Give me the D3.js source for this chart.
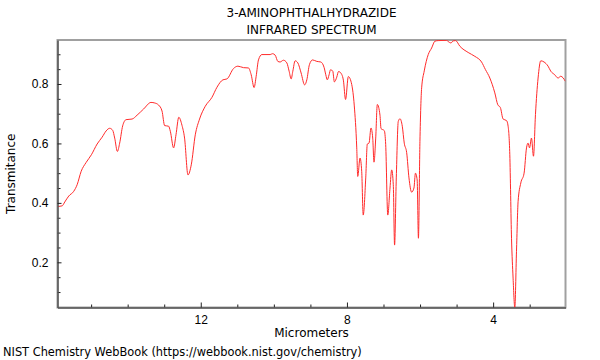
<!DOCTYPE html>
<html>
<head>
<meta charset="utf-8">
<script src="https://cdn.jsdelivr.net/npm/d3@7"></script>
<style>
  body { margin: 0; background: #fff; }
  svg { font-family: "DejaVu Sans", sans-serif; }
  .axis text { font-size: 12px; fill: #000; }
  .axis .domain { stroke: #555; stroke-width: 1.5; }
  .axis line { stroke: #222; }
</style>
</head>
<body>
<div id="chart"></div>
<script>
// Spectrum: wavelength (micrometers) and transmittance
const micrometers = [
  15.913, 15.792, 15.721, 15.612, 15.475, 15.383, 15.273, 15.137, 14.992, 14.836,
  14.699, 14.590, 14.492, 14.410, 14.355, 14.281, 14.219, 14.137, 14.044, 13.880,
  13.743, 13.563, 13.361, 13.257, 13.153, 13.060, 12.989, 12.880, 12.833, 12.743,
  12.678, 12.601, 12.514, 12.443, 12.350, 12.260, 12.150, 12.033, 11.877, 11.694,
  11.557, 11.393, 11.284, 11.104, 10.984, 10.831, 10.694, 10.620, 10.541, 10.484,
  10.421, 10.328, 10.101, 10.038, 9.964, 9.891, 9.828, 9.738, 9.645, 9.582,
  9.527, 9.481, 9.418, 9.344, 9.254, 9.158, 9.098, 9.027, 8.940, 8.825,
  8.716, 8.626, 8.579, 8.538, 8.489, 8.448, 8.388, 8.344, 8.279, 8.230,
  8.142, 8.098, 8.038, 7.962, 7.869, 7.801, 7.732, 7.705, 7.642, 7.596,
  7.555, 7.486, 7.443, 7.396, 7.342, 7.295, 7.260, 7.213, 7.169, 7.096,
  7.068, 6.978, 6.940, 6.883, 6.822, 6.776, 6.732, 6.697, 6.650, 6.596,
  6.549, 6.486, 6.432, 6.366, 6.303, 6.230, 6.167, 6.126, 6.079, 6.044,
  6.003, 5.956, 5.885, 5.776, 5.683, 5.593, 5.503, 5.273, 5.230, 5.156,
  5.093, 5.027, 4.910, 4.683, 4.500, 4.317, 4.213, 4.090, 3.954, 3.872,
  3.803, 3.727, 3.634, 3.590, 3.544, 3.497, 3.454, 3.407, 3.361, 3.317,
  3.243, 3.153, 3.087, 3.044, 3.005, 2.951, 2.896, 2.842, 2.770, 2.697,
  2.607, 2.497, 2.423, 2.314, 2.224, 2.150, 2.022
];
const transmittance = [
  0.388, 0.390, 0.403, 0.423, 0.439, 0.461, 0.506, 0.536, 0.562, 0.598,
  0.621, 0.642, 0.651, 0.644, 0.618, 0.573, 0.601, 0.659, 0.680, 0.682,
  0.695, 0.716, 0.738, 0.736, 0.729, 0.709, 0.660, 0.658, 0.641, 0.585,
  0.629, 0.688, 0.661, 0.618, 0.494, 0.528, 0.629, 0.682, 0.725, 0.755,
  0.789, 0.814, 0.817, 0.852, 0.860, 0.855, 0.854, 0.831, 0.788, 0.826,
  0.881, 0.899, 0.899, 0.902, 0.897, 0.876, 0.874, 0.880, 0.871, 0.843,
  0.817, 0.843, 0.878, 0.871, 0.837, 0.797, 0.814, 0.865, 0.881, 0.876,
  0.874, 0.856, 0.831, 0.814, 0.831, 0.848, 0.843, 0.807, 0.823, 0.842,
  0.832, 0.813, 0.748, 0.825, 0.798, 0.729, 0.585, 0.489, 0.551, 0.506,
  0.359, 0.484, 0.598, 0.601, 0.652, 0.618, 0.537, 0.618, 0.731, 0.695,
  0.650, 0.643, 0.596, 0.359, 0.450, 0.511, 0.461, 0.258, 0.484, 0.674,
  0.683, 0.658, 0.601, 0.569, 0.484, 0.436, 0.450, 0.500, 0.477, 0.281,
  0.607, 0.787, 0.844, 0.899, 0.921, 0.944, 0.946, 0.947, 0.943, 0.938,
  0.945, 0.946, 0.927, 0.906, 0.893, 0.874, 0.849, 0.820, 0.770, 0.730,
  0.721, 0.682, 0.677, 0.658, 0.562, 0.281, 0.147, 0.048, 0.237, 0.405,
  0.467, 0.500, 0.585, 0.601, 0.585, 0.618, 0.557, 0.697, 0.820, 0.878,
  0.874, 0.860, 0.843, 0.831, 0.820, 0.826, 0.809
];

const xMajorTicks = [12, 8, 4];
const xMinorTicks = [15, 14, 13, 11, 10, 9, 7, 6, 5, 3];
const yMajorTicks = [0.2, 0.4, 0.6, 0.8];
const yMinorTicks = [0.1, 0.15, 0.25, 0.3, 0.35, 0.45, 0.5, 0.55, 0.65, 0.7, 0.75, 0.85, 0.9];

const data = micrometers.map((m, i) => ({ m: m, t: transmittance[i] }));

const W = 600, H = 360;
const margin = { top: 40, right: 34.5, bottom: 52.5, left: 57.5 };
const width = W - margin.left - margin.right;
const height = H - margin.top - margin.bottom;

const svg = d3.select('#chart')
    .append('svg')
    .attr('width', W)
    .attr('height', H);

const g = svg.append('g')
    .attr('transform', `translate(${margin.left},${margin.top})`);

// Scales (wavelength runs right to left)
const x = d3.scaleLinear().domain([15.92, 2.02]).range([0, width]);
const y = d3.scaleLinear().domain([0.048, 0.948]).range([height, 0]);

// Frame
g.append('rect')
    .attr('width', width)
    .attr('height', height)
    .attr('fill', 'none')
    .attr('stroke', '#a0a0a0')
    .attr('stroke-width', 2);

// Clip for the trace
g.append('clipPath').attr('id', 'clip')
    .append('rect').attr('width', width).attr('height', height);

const line = d3.line()
    .x(d => x(d.m))
    .y(d => y(d.t))
    .curve(d3.curveMonotoneX);

g.append('path')
    .datum(data)
    .attr('clip-path', 'url(#clip)')
    .attr('fill', 'none')
    .attr('stroke', '#ff2a2a')
    .attr('stroke-width', 1)
    .attr('d', line);

// Axes, ticks pointing inward
g.append('g')
    .attr('class', 'axis')
    .attr('transform', `translate(0,${height})`)
    .call(d3.axisBottom(x).tickValues(xMinorTicks).tickSize(-3).tickFormat(''))
    .select('.domain').remove();

g.append('g')
    .attr('class', 'axis')
    .attr('transform', `translate(0,${height})`)
    .call(d3.axisBottom(x).tickValues(xMajorTicks).tickSizeInner(-5).tickSizeOuter(0).tickPadding(8).tickFormat(d3.format('d')));

g.append('g')
    .attr('class', 'axis')
    .call(d3.axisLeft(y).tickValues(yMinorTicks).tickSize(-3).tickFormat(''))
    .select('.domain').remove();

g.append('g')
    .attr('class', 'axis')
    .call(d3.axisLeft(y).tickValues(yMajorTicks).tickSizeInner(-4).tickSizeOuter(0).tickPadding(9).tickFormat(d3.format('.1f')));

// Titles
svg.append('text')
    .attr('x', margin.left + width / 2)
    .attr('y', 17)
    .attr('text-anchor', 'middle')
    .style('font-size', '12px')
    .text('3-AMINOPHTHALHYDRAZIDE');

svg.append('text')
    .attr('x', margin.left + width / 2)
    .attr('y', 34)
    .attr('text-anchor', 'middle')
    .style('font-size', '12px')
    .text('INFRARED SPECTRUM');

svg.append('text')
    .attr('x', margin.left + width / 2)
    .attr('y', 337)
    .attr('text-anchor', 'middle')
    .style('font-size', '12px')
    .text('Micrometers');

svg.append('text')
    .attr('transform', `translate(15,${margin.top + height / 2}) rotate(-90)`)
    .attr('text-anchor', 'middle')
    .style('font-size', '12px')
    .text('Transmitance');

svg.append('text')
    .attr('x', 3)
    .attr('y', 356)
    .style('font-size', '11.4px')
    .text('NIST Chemistry WebBook (https://webbook.nist.gov/chemistry)');
</script>
</body>
</html>
